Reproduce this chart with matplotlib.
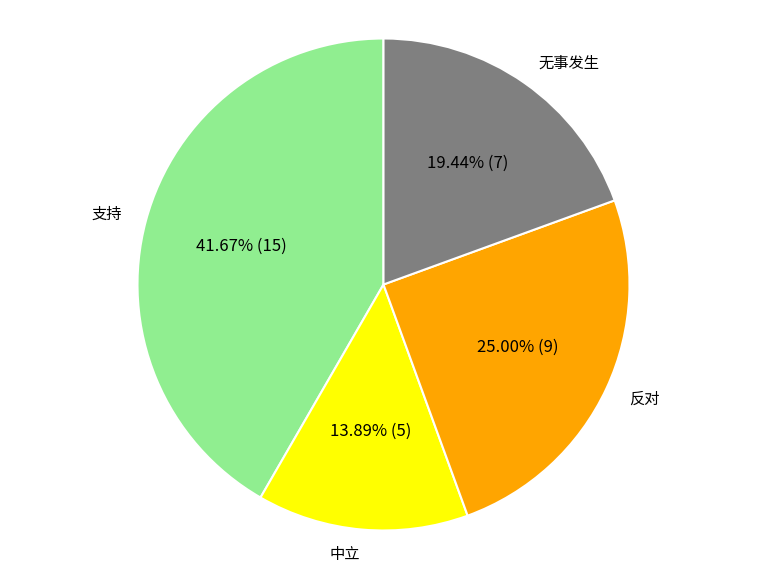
import matplotlib
matplotlib.use("Agg")
import matplotlib.pyplot as plt

plt.rcParams['font.family'] = ['Noto Sans CJK SC', 'DejaVu Sans']

labels = ["支持", "中立", "反对", "无事发生"]
counts = [15, 5, 9, 7]
colors = ["lightgreen", "yellow", "orange", "gray"]

total = sum(counts)


def fmt(pct):
    n = int(round(pct * total / 100.0))
    return "{:.2f}% ({})".format(pct, n)


fig = plt.figure(figsize=(7.68, 5.76), dpi=100)
ax = fig.add_axes([0, 0, 1, 1])
wedges, texts, autotexts = ax.pie(
    counts, labels=labels, colors=colors, autopct=fmt, startangle=90,
    wedgeprops=dict(edgecolor="white", linewidth=1.5),
    textprops=dict(fontsize=11),
)
for t in autotexts:
    t.set_fontsize(12)
ax.set_xlim(-383.5 / 246, 384.5 / 246)
ax.set_ylim(-291.5 / 246, 284.5 / 246)
ax.set_aspect("auto")
ax.axis("off")

fig.savefig("out.png", dpi=100)
